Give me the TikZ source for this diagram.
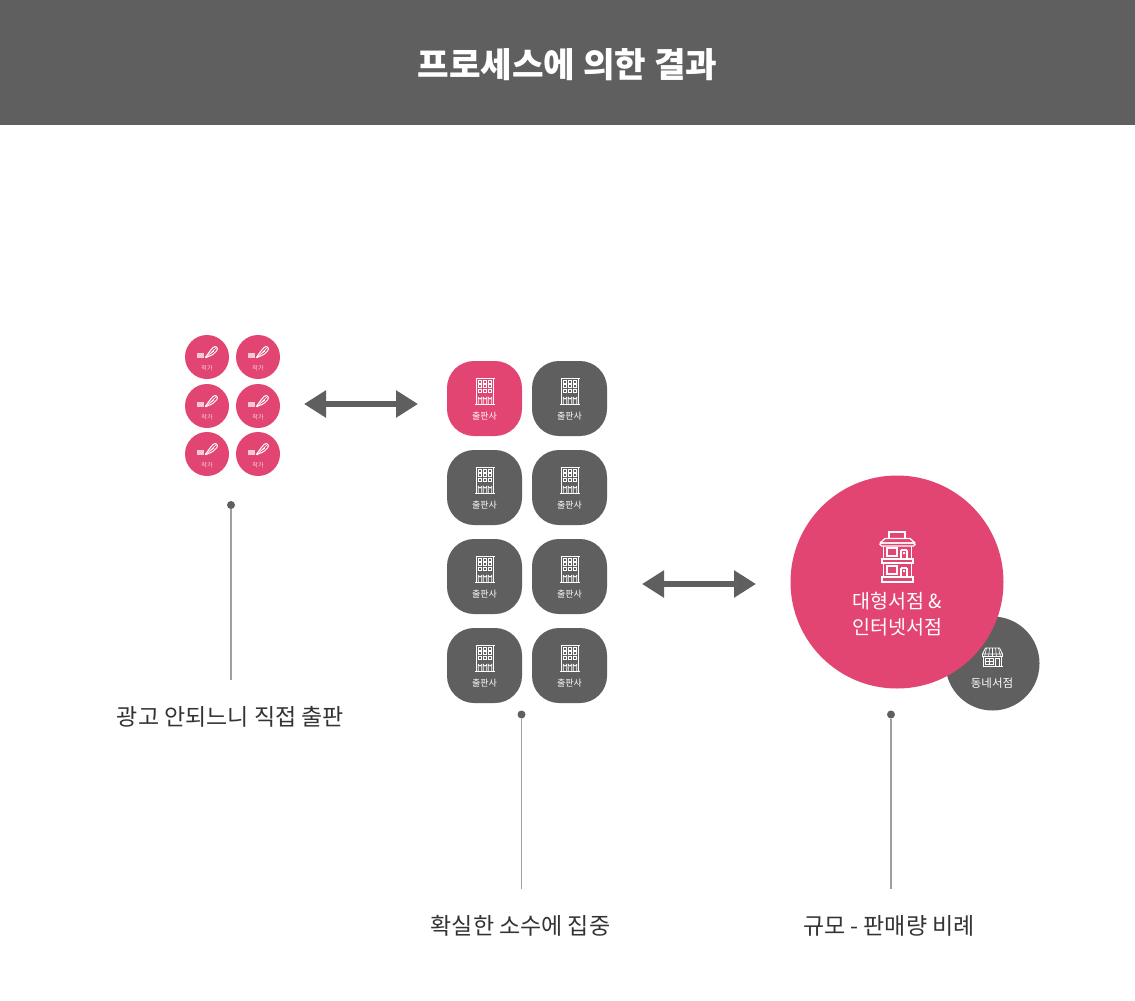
\documentclass[tikz,border=0pt]{standalone}
\usepackage{fontspec}
\usetikzlibrary{arrows.meta}
\setmainfont{Noto Sans CJK KR}
\definecolor{rosepk}{HTML}{E24572}
\definecolor{slategr}{HTML}{5F5F5F}
\definecolor{leadgr}{HTML}{A0A0A0}
\definecolor{labelgr}{HTML}{333333}
\tikzset{
  authorc/.style={circle,fill=rosepk,minimum size=44pt,inner sep=0pt},
  pubbox/.style={rectangle,rounded corners=27pt,minimum size=75pt,inner sep=0pt,fill=slategr},
  pubpink/.style={pubbox,fill=rosepk},
  dotend/.style={circle,fill=slategr,minimum size=8pt,inner sep=0pt},
  leadline/.style={draw=leadgr,line width=1.1pt},
  dblarrow/.style={draw=slategr,line width=5.5pt,{Triangle[length=22pt,width=26pt]}-{Triangle[length=22pt,width=26pt]},shorten <=0pt,shorten >=0pt},
  biglabel/.style={text=labelgr,font=\fontsize{23}{28}\selectfont,inner sep=0pt},
  tinytext/.style={text=white,text opacity=0.8,font=\fontsize{6}{6}\selectfont,inner sep=0pt},
  pubtext/.style={text=white,font=\fontsize{9}{10}\selectfont,inner sep=0pt},
  penicon/.pic={
    % pen body, tip towards lower left
    \draw[white,line width=1pt,rounded corners=1pt] (-2,1) -- (3,-6) -- (7,-10.5) -- (10,-10) -- (10.5,-7) -- (6,-2.5) -- cycle;
    \draw[white,line width=.6pt] (0,-.5) -- (9,-9) (3,-3) -- (7,-6);
    \fill[white,opacity=.7] (-10,-4) rectangle (-3,1);
  },
  bldicon/.pic={
    \draw[white,line width=.9pt] (-9.5,-13) -- (9.5,-13) (-10,13) -- (10,13) (-8.5,-13) -- (-8.5,13) (8.5,-13) -- (8.5,13);
    \foreach \cx in {-5,0,5} \foreach \cy in {-9.5,-5,-.5}
      \draw[white,line width=.7pt] (\cx-1.5,\cy-1.4) rectangle (\cx+1.5,\cy+1.4);
    \foreach \cx in {-5,0,5}
      \draw[white,line width=.7pt] (\cx-1.7,13) -- (\cx-1.7,6.5) arc[start angle=180,end angle=0,radius=1.7] -- (\cx+1.7,13);
  },
  bigstore/.pic={
    \draw[white,line width=1.3pt] (-8.5,-25) rectangle (7.5,-18.5);
    \draw[white,line width=1.3pt,line join=round] (-12.5,-18.5) -- (12.5,-18.5) -- (17.5,-14) -- (-17.5,-14) -- cycle;
    \draw[white,line width=1.3pt,rounded corners=1.5pt] (-17.5,-14) rectangle (17.5,-11);
    \draw[white,line width=1.3pt] (-14,-11) -- (-14,2) (14,-11) -- (14,2) (-14,6) -- (-14,20) (14,6) -- (14,20);
    \draw[white,line width=1.3pt] (-10.5,-9) rectangle (-.5,-1) (3.5,-7) -- (3.5,2) (9.5,-7) -- (9.5,2) (3.5,-7) -- (9.5,-7);
    \draw[white,line width=1.3pt] (-15.5,2) rectangle (15.5,6);
    \draw[white,line width=1.3pt] (-10.5,9) rectangle (-.5,17) (3.5,11) -- (3.5,20) (9.5,11) -- (9.5,20) (3.5,11) -- (9.5,11);
    \draw[white,line width=1.3pt] (-15.5,20) rectangle (15.5,25);
    \fill[white] (5.5,-5) rectangle (7.5,-3) (5.5,13) rectangle (7.5,15);
  },
  smallstore/.pic={
    \draw[white,line width=.8pt,line join=round] (-7,-9) -- (7,-9) -- (10,-3) -- (-10,-3) -- cycle;
    \foreach \sx in {-6,-3,0,3,6} \draw[white,line width=.6pt] (\sx,-9) -- (\sx*1.3,-1);
    \draw[white,line width=.7pt] (-10,-3) -- (-10,-1) -- (10,-1) -- (10,-3);
    \draw[white,line width=.8pt] (-9,-1) -- (-9,9) (9,-1) -- (9,9) (-10,9.5) -- (10,9.5);
    \draw[white,line width=.6pt] (-7,1) rectangle (1,7) (-3,1) -- (-3,7) (-7,4) -- (1,4) (3,1) rectangle (7,9);
  }
}
\begin{document}
\begin{tikzpicture}[x=1pt,y=-1pt]
\useasboundingbox (0,0) rectangle (1135,1001);
\fill[white] (0,0) rectangle (1135,1001);
\node[fill=slategr,minimum width=1135pt,minimum height=125pt,inner sep=0pt,anchor=north west] (band) at (0,0) {};
\node[text=white,font=\fontsize{34.3}{38}\selectfont\bfseries,inner sep=0pt] (title) at (567.5,65) {프로세스에 의한 결과};

% authors
\foreach \nm/\cx/\cy in {a1/207/357,a2/258/357,a3/207/406,a4/258/406,a5/207/454,a6/258/454}{
  \node[authorc] (\nm) at (\cx,\cy) {};
  \pic at (\cx,\cy) {penicon};
  \node[tinytext] at (\cx,\cy+11) {작가};
}
% publishers
\foreach \nm/\cx/\cy/\sty in {p1/484.5/398.5/pubpink,p2/569.5/398.5/pubbox,p3/484.5/487.5/pubbox,p4/569.5/487.5/pubbox,p5/484.5/576.5/pubbox,p6/569.5/576.5/pubbox,p7/484.5/665.5/pubbox,p8/569.5/665.5/pubbox}{
  \node[\sty] (\nm) at (\cx,\cy) {};
  \pic at (\cx+.5,\cy-7.5) {bldicon};
  \node[pubtext] at (\cx,\cy+17.5) {출판사};
}
% stores
\node[circle,fill=slategr,minimum size=94pt,inner sep=0pt] (local) at (992.5,663.5) {};
\node[circle,fill=rosepk,minimum size=213pt,inner sep=0pt] (big) at (897,582) {};
\pic at (897.5,557) {bigstore};
\node[text=white,font=\fontsize{19.5}{26.5}\selectfont,align=center,inner sep=0pt] (bigtext) at (897.5,614) {대형서점 \&\\인터넷서점};
\pic at (992.5,657) {smallstore};
\node[pubtext,font=\fontsize{11.5}{12}\selectfont] (localtext) at (992,683.5) {동네서점};

% double arrows
\coordinate (ar1a) at (304,404);
\coordinate (ar1b) at (418,404);
\coordinate (ar2a) at (642,584);
\coordinate (ar2b) at (756,584);
\draw[dblarrow] (ar1a) -- (ar1b);
\draw[dblarrow] (ar2a) -- (ar2b);

% leaders
\node[dotend] (d1) at (231,505) {};
\node[dotend] (d2) at (521.5,714.5) {};
\node[dotend] (d3) at (891,714.5) {};
\node[biglabel] (l1) at (230.5,717) {광고 안되느니 직접 출판};
\node[biglabel] (l2) at (520.5,926) {확실한 소수에 집중};
\node[biglabel] (l3) at (889,926) {규모 - 판매량 비례};
\coordinate (e1) at (231,680);
\coordinate (e2) at (521.5,889);
\coordinate (e3) at (891,889);
\draw[leadline] (d1) -- (e1);
\draw[leadline] (d2) -- (e2);
\draw[leadline] (d3) -- (e3);
\end{tikzpicture}
\end{document}
